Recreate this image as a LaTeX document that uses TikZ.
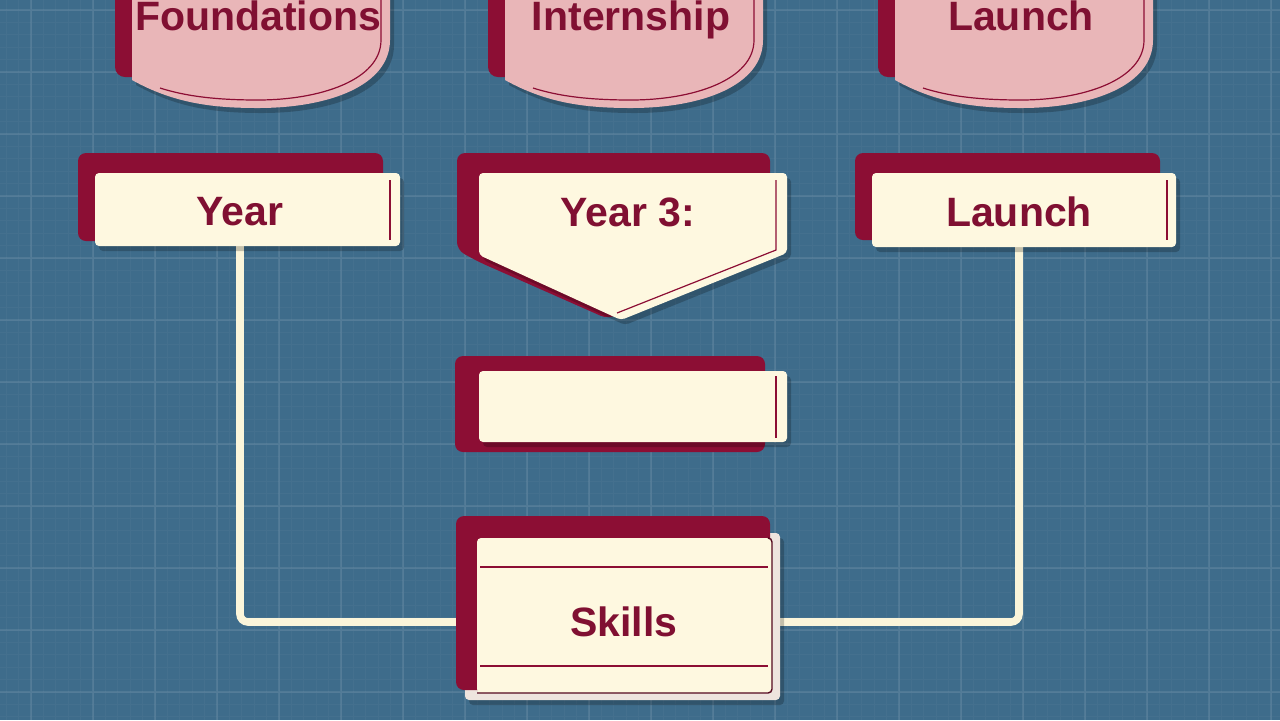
\documentclass[tikz,border=0pt]{standalone}
\usepackage{fontspec}
\setmainfont{Liberation Sans}
\usetikzlibrary{shadows}
\definecolor{bgBlue}{RGB}{62,108,139}
\definecolor{maroonBack}{RGB}{140,14,52}
\definecolor{maroonText}{RGB}{128,16,50}
\definecolor{cardCream}{RGB}{254,248,224}
\definecolor{cardUnder}{RGB}{238,228,222}
\definecolor{tagPink}{RGB}{233,182,184}
\definecolor{lineCream}{RGB}{251,245,218}
\newcommand{\px}{0.5pt}
\newcommand{\cardFont}{\fontsize{20.5}{24}\selectfont\bfseries}
\newcommand{\tagWidth}{258}
\newcommand{\tagCard}[3]{%
  \fill[maroonBack, rounded corners=5pt] ({#1-17},-20) rectangle ({#1+60},77);
  \fill[tagPink, softShadow]
    (#1,-20) -- (#1,80) .. controls ({#1+43},104) and ({#1+83},108) .. ({#1+126},108)
    .. controls ({#1+198},108) and ({#1+\tagWidth},85) .. ({#1+\tagWidth},40) -- ({#1+\tagWidth},-20) -- cycle;
  \draw[edgeLine] ({#1+249},-20) -- ({#1+249},40) .. controls ({#1+249},80) and ({#1+188},100) .. ({#1+126},100)
    .. controls ({#1+83},100) and ({#1+53},96) .. ({#1+28},88);
  \node[cardLabel, anchor=base] (#2) at ({#1+126},30) {#3};
}
\pgfdeclarelayer{back}
\pgfsetlayers{back,main}

\begin{document}
\begin{tikzpicture}[x=\px,y=-\px,
  cardLabel/.style={font=\cardFont, text=maroonText, inner sep=0pt},
  cardBack/.style={fill=maroonBack, rounded corners=4pt},
  softShadow/.style={drop shadow={shadow xshift=2pt, shadow yshift=-2.5pt, fill=black, opacity=.22}},
  cardFace/.style={fill=cardCream, rounded corners=2pt, softShadow},
  edgeLine/.style={draw=maroonBack, line width=0.6pt},
  connector/.style={draw=lineCream, line width=3.8pt, rounded corners=4pt}]

\useasboundingbox (0,0) rectangle (1280,720);

\begin{pgfonlayer}{back}
\fill[bgBlue] (0,0) rectangle (1280,720);
\draw[white, opacity=.03, line width=.4pt, step=6.2pt, shift={(31,10)}] (-40,-20) grid (1260,720);
\draw[white, opacity=.09, line width=.6pt, step=31pt, shift={(31,10)}] (-40,-20) grid (1260,720);
\end{pgfonlayer}

\tagCard{132}{foundationsTag}{Foundations}
\tagCard{505}{internshipTag}{Internship}
\tagCard{895}{launchTag}{Launch}

\fill[cardBack] (78,153) rectangle (383,241);
\fill[cardFace] (95,173) rectangle (400,246);
\draw[edgeLine] (390,180) -- (390,240);
\node[cardLabel] (yearLabel) at (240,212) {Year};

\fill[cardBack] (457,153) -- (770,153) -- (770,245) -- (608,319) -- (479,262) -- (457,250) -- cycle;
\fill[cardFace] (479,173) -- (787,173) -- (787,253) -- (621,320) -- (479,255) -- cycle;
\draw[edgeLine] (776,180) -- (776,250) -- (617,313);
\node[cardLabel] (yearThreeLabel) at (628,212) {Year 3:};

\fill[cardBack] (855,153) rectangle (1160,240);
\fill[cardFace] (872,173) rectangle (1176,247);
\draw[edgeLine] (1167,180) -- (1167,240);
\node[cardLabel] (launchLabel) at (1019,212) {Launch};

\fill[cardBack] (455,356) rectangle (765,452);
\fill[cardFace] (479,371) rectangle (787,442);
\draw[edgeLine] (776,376) -- (776,438);

\fill[cardUnder, rounded corners=2pt, softShadow] (465,533) rectangle (780,700);
\fill[cardBack] (456,516) rectangle (770,690);
\fill[cardCream, rounded corners=2pt] (477,538) rectangle (772,693);
\draw[draw=maroonBack!60!black, line width=.7pt, rounded corners=2pt] (768,538) -- (772,538) -- (772,693) -- (477,693);
\draw[edgeLine] (480,567) -- (768,567);
\draw[edgeLine] (480,666) -- (768,666);
\node[cardLabel] (skillsLabel) at (624,622) {Skills};

\begin{pgfonlayer}{back}
\draw[connector] (yearLabel) |- (skillsLabel);
\draw[connector] (launchLabel) |- (skillsLabel);
\end{pgfonlayer}
\end{tikzpicture}
\end{document}
